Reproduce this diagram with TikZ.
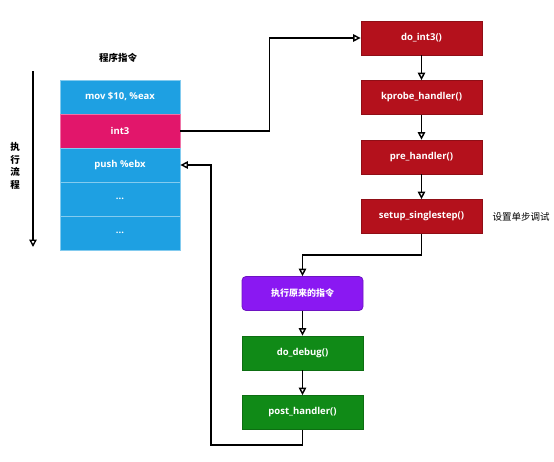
\documentclass[tikz,border=0pt]{standalone}
\usepackage{fontspec}
\setmainfont{Open Sans}
\newfontfamily\cjk{Noto Sans CJK SC}
\usepackage{tikz}
\usetikzlibrary{positioning,arrows.meta}

\definecolor{stackblue}{HTML}{1EA0E2}
\definecolor{hotpink}{HTML}{E2166B}
\definecolor{kred}{HTML}{B4111C}
\definecolor{origpurple}{HTML}{8A18F2}
\definecolor{dbggreen}{HTML}{108A17}

\begin{document}
\begin{tikzpicture}[x=1pt,y=1pt,on grid,
    >={Triangle[open,length=7.5pt,width=7.5pt,line width=1.4pt]},
    instr/.style={rectangle,minimum width=120pt,minimum height=34pt,inner sep=0pt,
        fill=stackblue,draw=stackblue!55!white,line width=0.8pt,text=white,font=\fontsize{9.5}{11}\selectfont\bfseries},
    func/.style={rectangle,minimum width=121pt,minimum height=34pt,inner sep=0pt,
        fill=kred,draw=kred!80!black,line width=0.8pt,text=white,font=\fontsize{9.5}{11}\selectfont\bfseries},
    flow/.style={line width=1.6pt,->}]
    \useasboundingbox (0,0) rectangle (554,-461);

    % program instructions
    \node (title) at (118,-58) {\cjk\bfseries\fontsize{9.5}{11}\selectfont 程序指令};
    \node[instr] (mov) at (120,-97) {mov \$10, \%eax};
    \node[instr,fill=hotpink,draw=hotpink!60!white] (int3) [below=34pt of mov] {int3};
    \node[instr] (push) [below=34pt of int3] {push \%ebx};
    \node[instr] (dots1) [below=34pt of push] {...};
    \node[instr] (dots2) [below=34pt of dots1] {...};

    \coordinate (flowtop) at (33,-71);
    \coordinate (flowbot) at (33,-247);
    \draw[line width=1.6pt,->] (flowtop) -- (flowbot);
    \node[align=center,font=\cjk\bfseries\fontsize{9.5}{12.7}\selectfont] (flowtxt) at (15,-166) {执\\行\\流\\程};

    % kernel side
    \node[func] (do_int3) at (421.5,-38) {do\_int3()};
    \node[func] (kprobe) [below=59.5pt of do_int3] {kprobe\_handler()};
    \node[func] (pre) [below=59.5pt of kprobe] {pre\_handler()};
    \node[func] (setup) [below=59.5pt of pre] {setup\_singlestep()};
    \node[anchor=west,font=\cjk\fontsize{9.5}{11}\selectfont] (setuptxt) at (489,-217) {设置单步调试};

    \node[func,fill=origpurple,draw=origpurple!80!black,rounded corners=4pt,font=\cjk\bfseries\fontsize{9}{11}\selectfont]
        (orig) at (302.5,-293.5) {执行原来的指令};
    \node[func,fill=dbggreen,draw=dbggreen!80!black] (debug) [below=59.5pt of orig] {do\_debug()};
    \node[func,fill=dbggreen,draw=dbggreen!80!black] (post) [below=59.5pt of debug] {post\_handler()};

    \coordinate (ret) at (211,-445);

    \draw[flow] (int3.east) -- ++(89,0) |- (do_int3.west);
    \path[flow]
    (do_int3) edge (kprobe)
    (kprobe) edge (pre)
    (pre) edge (setup)
    (orig) edge (debug)
    (debug) edge (post);
    \draw[flow] (setup.south) -- ++(0,-21) -| (orig.north);
    \draw[flow] (post.south) |- (ret) |- (push.east);

\end{tikzpicture}
\end{document}
